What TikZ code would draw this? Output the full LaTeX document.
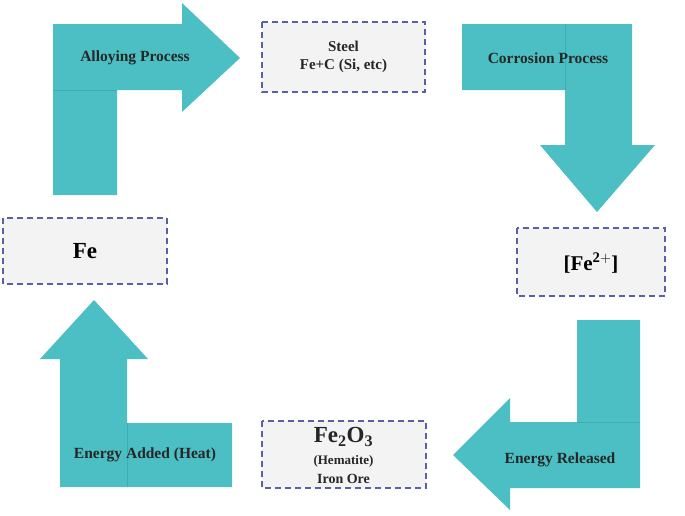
\documentclass[tikz,border=0pt]{standalone}
\usepackage{fontspec}
\setmainfont{Liberation Serif}
\begin{document}
\begin{tikzpicture}[x=1pt,y=-1pt,
  arr/.style={fill=teal0,draw=none},
  seam/.style={draw=teal1,line width=0.6pt},
  box/.style={draw=boxb,fill=boxf,dash pattern=on 6pt off 4pt,line width=1.3pt},
  lbl/.style={font=\bfseries\fontsize{15.5}{17}\selectfont,text=black!85}]
\definecolor{teal0}{HTML}{4BBFC3}
\definecolor{teal1}{HTML}{3AAEB2}
\definecolor{boxb}{HTML}{5A5FA8}
\definecolor{boxf}{HTML}{F3F3F3}
\useasboundingbox (0,0) rectangle (685,515);
% top-left arrow
\fill[arr] (53,195) -- (53,24) -- (182,24) -- (182,3) -- (240,58) -- (182,112) -- (182,90) -- (117,90) -- (117,195) -- cycle;
\draw[seam] (53,90) -- (117,90);
\node[lbl] (t1) at (135,58) {Alloying Process};
% top-right arrow
\fill[arr] (462,24) -- (632,24) -- (632,145) -- (655,145) -- (597,212) -- (540,145) -- (565,145) -- (565,90) -- (462,90) -- cycle;
\draw[seam] (565,24) -- (565,90);
\node[lbl] (t2) at (548,58) {Corrosion Process};
% bottom-right arrow
\fill[arr] (577,320) -- (640,320) -- (640,488) -- (510,488) -- (510,510) -- (453,455) -- (510,398) -- (510,422) -- (577,422) -- cycle;
\draw[seam] (577,422) -- (640,422);
\node[lbl] (t3) at (560,460) {Energy Released};
% bottom-left arrow
\fill[arr] (232,423) -- (232,487) -- (60,487) -- (60,359) -- (40,359) -- (94,300) -- (148,359) -- (127,359) -- (127,423) -- cycle;
\draw[seam] (127,423) -- (127,487);
\node[lbl] (t4) at (145,455) {Energy Added (Heat)};
% boxes
\draw[box] (262,22) rectangle (425,92);
\node[lbl,align=center,font=\bfseries\fontsize{15}{18}\selectfont] (steel) at (343.5,57) {Steel\\Fe+C (Si, etc)};
\draw[box] (517,228) rectangle (665,296);
\node[font=\bfseries\fontsize{21}{22}\selectfont] (fe2) at (591,263) {[Fe$^{\mathbf{2+}}$]};
\draw[box] (262,421) rectangle (426,488);
\node[text=black!85,font=\bfseries\fontsize{23}{24}\selectfont] (ore) at (343.5,437) {Fe$_{\mathbf 2}$O$_{\mathbf 3}$};
\node[text=black!85,font=\bfseries\fontsize{13}{14}\selectfont] (hem) at (343.5,461) {(Hematite)};
\node[text=black!85,font=\bfseries\fontsize{14}{15}\selectfont] (iron) at (343.5,479) {Iron Ore};
\draw[box] (3,218) rectangle (167,284);
\node[font=\bfseries\fontsize{23}{24}\selectfont] (fe) at (85,251) {Fe};
\end{tikzpicture}
\end{document}
